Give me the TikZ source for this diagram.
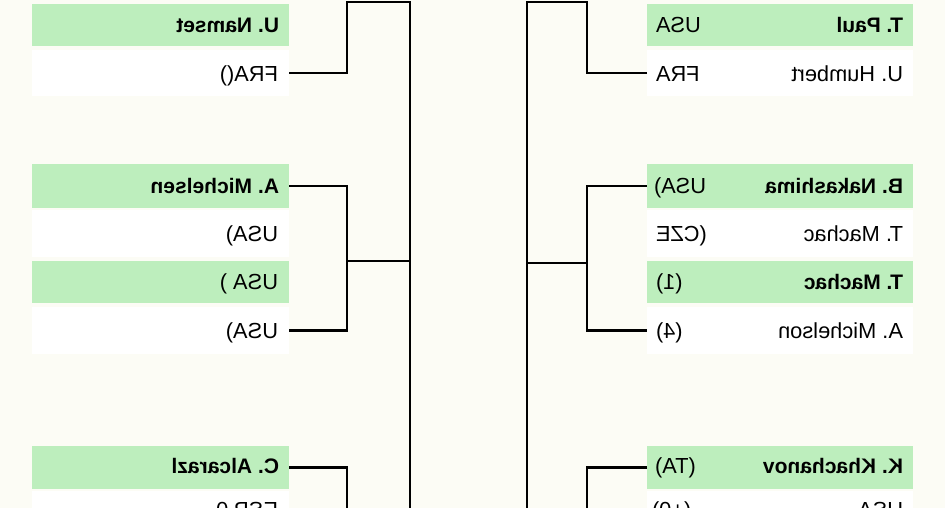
\documentclass[tikz,border=0pt]{standalone}
\usepackage{fontspec}
\setmainfont{Liberation Sans}
\usepackage{graphicx}
\definecolor{bg}{HTML}{FCFCF5}
\definecolor{grn}{HTML}{BDEEBD}
\newcommand{\mirt}[1]{\reflectbox{#1}}
\tikzset{
  lrow/.style={draw=none, inner sep=0pt, outer sep=0pt, minimum width=257pt},
  rrow/.style={draw=none, inner sep=0pt, outer sep=0pt, minimum width=266pt},
  greenrow/.style={fill=grn},
  whiterow/.style={fill=white},
  txt/.style={inner sep=0pt, outer sep=0pt, text height=15.5pt, text depth=0pt, font=\fontsize{21.8}{24}\selectfont},
  btxt/.style={txt, text height=15pt, font=\fontsize{21}{24}\selectfont\bfseries},
  conn/.style={draw=black, line width=2.1pt},
}
\begin{document}
\begin{tikzpicture}[x=1pt, y=-1pt]
\useasboundingbox (0,0) rectangle (945,508);
\fill[bg] (0,0) rectangle (945,508);

% left rows
\node[lrow, greenrow, minimum height=42pt] (L1) at (160.5,25) {};
\node[lrow, whiterow, minimum height=46pt] (L2) at (160.5,73) {};
\node[lrow, greenrow, minimum height=44pt] (L3) at (160.5,186) {};
\node[lrow, whiterow, minimum height=47pt] (L4) at (160.5,233.5) {};
\node[lrow, greenrow, minimum height=42pt] (L5) at (160.5,282) {};
\node[lrow, whiterow, minimum height=47pt] (L6) at (160.5,330.5) {};
\node[lrow, greenrow, minimum height=43pt] (L7) at (160.5,467.5) {};
\node[lrow, whiterow, minimum height=44pt] (L8) at (160.5,513) {};

% right rows
\node[rrow, greenrow, minimum height=42pt] (R1) at (780,25) {};
\node[rrow, whiterow, minimum height=46pt] (R2) at (780,73) {};
\node[rrow, greenrow, minimum height=44pt] (R3) at (780,186) {};
\node[rrow, whiterow, minimum height=47pt] (R4) at (780,233.5) {};
\node[rrow, greenrow, minimum height=42pt] (R5) at (780,282) {};
\node[rrow, whiterow, minimum height=47pt] (R6) at (780,330.5) {};
\node[rrow, greenrow, minimum height=43pt] (R7) at (780,467.5) {};
\node[rrow, whiterow, minimum height=44pt] (R8) at (780,513) {};

% left texts
\node[btxt, anchor=east] (tL1) at (279,25) {\mirt{U. Namset}};
\node[txt, anchor=east] (tL2) at (278,74) {\mirt{FRA()}};
\node[btxt, anchor=east] (tL3) at (279,186) {\mirt{A. Michelsen}};
\node[txt, anchor=east] (tL4) at (278,234) {\mirt{USA)}};
\node[txt, anchor=east] (tL5) at (278,282) {\mirt{USA )}};
\node[txt, anchor=east] (tL6) at (278,331) {\mirt{USA)}};
\node[btxt, anchor=east] (tL7) at (279,466) {\mirt{C. Alcarazl}};
\node[txt, anchor=east] (tL8) at (278,510) {\mirt{ESP 0}};

% right texts: countries
\node[txt, anchor=west] (cR1) at (656,25) {\mirt{USA}};
\node[txt, anchor=west] (cR2) at (656,74) {\mirt{FRA}};
\node[txt, anchor=west] (cR3) at (654,186) {\mirt{USA)}};
\node[txt, anchor=west] (cR4) at (656,234) {\mirt{(CZE}};
\node[txt, anchor=west] (cR5) at (656,282) {\mirt{(1)}};
\node[txt, anchor=west] (cR6) at (656,331) {\mirt{(4)}};
\node[txt, anchor=west] (cR7) at (655,466) {\mirt{(TA)}};
\node[txt, anchor=west] (cR8) at (652,510) {\mirt{(+0)}};

% right texts: names
\node[btxt, anchor=east] (nR1) at (903,25) {\mirt{T. Paul}};
\node[txt, anchor=east] (nR2) at (903,74) {\mirt{U. Humbert}};
\node[btxt, anchor=east] (nR3) at (903,186) {\mirt{B. Nakashima}};
\node[txt, anchor=east] (nR4) at (903,234) {\mirt{T. Machac}};
\node[btxt, anchor=east] (nR5) at (903,282) {\mirt{T. Machac}};
\node[txt, anchor=east] (nR6) at (903,331) {\mirt{A. Michelson}};
\node[btxt, anchor=east] (nR7) at (903,466) {\mirt{K. Khachanov}};
\node[txt, anchor=east] (nR8) at (903,510) {\mirt{USA}};

% junction coordinates
\coordinate (LjA) at (347,2);
\coordinate (LmA) at (410,2);
\coordinate (LmB) at (410,512);
\coordinate (LjB) at (347,261);
\coordinate (LmC) at (410,261);
\coordinate (LjC) at (347,512);

\coordinate (RjA) at (587,2);
\coordinate (RmA) at (527,2);
\coordinate (RmB) at (527,512);
\coordinate (RjB) at (587,263);
\coordinate (RmC) at (527,263);
\coordinate (RjC) at (587,512);

% left connectors
\draw[conn] (L2.east) -| (LjA) -- (LmA) -- (LmB);
\draw[conn] (L3.east) -| (LjB) |- (L6.east);
\draw[conn] (LjB) -- (LmC);
\draw[conn] (L7.east) -| (LjC);

% right connectors
\draw[conn] (R2.west) -| (RjA) -- (RmA) -- (RmB);
\draw[conn] (R3.west) -| (RjB) |- (R6.west);
\draw[conn] (RjB) -- (RmC);
\draw[conn] (R7.west) -| (RjC);
\end{tikzpicture}
\end{document}
